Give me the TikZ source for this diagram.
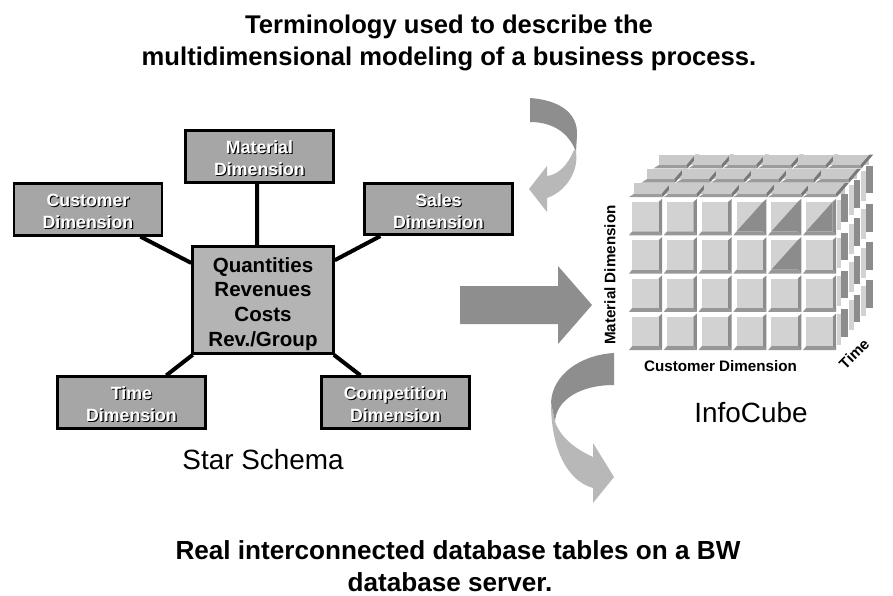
\documentclass[tikz,border=0pt]{standalone}
\usepackage{fontspec}
\setmainfont{Liberation Sans}
\usetikzlibrary{calc}
\definecolor{boxdim}{HTML}{A6A6A6}
\definecolor{boxmid}{HTML}{B4B4B4}
\definecolor{cellface}{HTML}{D2D2D2}
\definecolor{celldark}{HTML}{8C8C8C}
\definecolor{topface}{HTML}{CACACA}
\definecolor{topbevel}{HTML}{9C9C9C}
\definecolor{topdark}{HTML}{787878}
\definecolor{arrowdark}{HTML}{8E8E8E}
\definecolor{arrowlight}{HTML}{B8B8B8}
\newcommand{\shtxt}[1]{\leavevmode\rlap{\kern.8pt\raisebox{-.8pt}{\color{black}#1}}{\color{white}#1}}
\newcommand{\dimgap}{\rule{0pt}{13.5pt}}
\newcommand{\hubgap}{\rule{0pt}{17pt}}
\newcommand{\frontcell}{%
  \fill[celldark] (.85,.9) -- (.95,1) -- (.95,.05) -- (.85,.13) -- cycle;
  \fill[celldark!90!white] (0,1) -- (.95,1) -- (.85,.9) -- (.09,.9) -- cycle;
  \fill[cellface] (.09,.13) rectangle (.85,.9);
}
\newcommand{\topcell}{%
  \fill[topbevel] (0,0) -- (.97,0) -- (.86,.24) -- (.07,.24) -- cycle;
  \fill[topface] (.07,.24) rectangle (.86,.96);
  \fill[topdark] (.86,.24) -- (.97,0) -- (.97,.96) -- (.86,.96) -- cycle;
}
\newcommand{\sidecell}{%
  \fill[cellface] (0,.07) rectangle (.38,1);
  \fill[celldark] (.38,.07) rectangle (.93,1);
}
\tikzset{
  dim/.style={draw=black,line width=2.2pt,fill=boxdim,minimum width=111pt,minimum height=38.5pt,inner sep=0pt,font=\bfseries\fontsize{13.3}{16.5}\selectfont,align=center},
  hub/.style={draw=black,line width=2.2pt,fill=boxmid,minimum width=105.5pt,minimum height=80pt,inner sep=0pt,font=\bfseries\fontsize{15.4}{18.4}\selectfont,align=center},
  link/.style={draw=black,line width=3pt},
  title/.style={font=\bfseries\fontsize{19.2}{24}\selectfont,align=center,inner sep=0pt},
  title low/.style={title,font=\bfseries\fontsize{19.6}{23.5}\selectfont},
  capt/.style={font=\fontsize{20.9}{24}\selectfont,inner sep=0pt},
  axis/.style={font=\bfseries\fontsize{11.4}{12}\selectfont,inner sep=0pt},
  darrow/.style={fill=arrowdark},
  larrow/.style={fill=arrowlight},
}
\begin{document}
\begin{tikzpicture}[x=0.75pt,y=-0.75pt]
\useasboundingbox (0,0) rectangle (893,596);
\fill[white] (0,0) rectangle (893,596);
% titles
\node[title] (t1) at (449,43) {Terminology used to describe the\\multidimensional modeling of a business process.};
\node[title low] (t2) at (458,566) {Real interconnected database tables on a BW\\database server.\hspace*{12pt}};
% star schema
\node[hub] (hub) at (263,300) {\hubgap Quantities\\Revenues\\Costs\\Rev./Group};
\node[dim] (mat) at (259.5,156.5) {\dimgap\shtxt{Material}\\\shtxt{Dimension}};
\node[dim] (cust) at (88,209.5) {\dimgap\shtxt{Customer}\\\shtxt{Dimension}};
\node[dim] (sales) at (438.5,209) {\dimgap\shtxt{Sales}\\\shtxt{Dimension}};
\node[dim] (time) at (131.5,402.5) {\dimgap\shtxt{Time}\\\shtxt{Dimension}};
\node[dim] (comp) at (395.5,402.5) {\dimgap\shtxt{Competition}\\\shtxt{Dimension}};
\draw[link] (hub.96.3) -- (mat.-95.3);
\draw[link] (hub) -- (cust);
\draw[link] (hub.29.4) -- (sales.205);
\draw[link] (hub) -- (time);
\draw[link] (hub) -- (comp);
\node[capt] (star) at (263,460) {Star Schema};
\node[capt] (info) at (751,413) {InfoCube};
% block arrow
\fill[darrow] (460,286) -- (558,286) -- (558,266) -- (592,305) -- (558,344) -- (558,324) -- (460,324) -- cycle;
% upper curved arrow
\fill[darrow] (530,98) .. controls (558,100) and (578,112) .. (577,135) -- (576,152) .. controls (570,135) and (555,122) .. (530,122) -- cycle;
\fill[larrow] (576,152) .. controls (579,172) and (565,192) .. (547,198) -- (547,212) -- (529,189) -- (547,166) -- (547,176) .. controls (558,175) and (568,165) .. (574,150) -- cycle;
% lower curved arrow
\fill[darrow] (614,353) .. controls (580,355) and (552,375) .. (551,403) -- (555,422) .. controls (556,400) and (580,385) .. (614,385) -- cycle;
\fill[larrow] (555,422) .. controls (562,440) and (578,450) .. (593,457) -- (593,443) -- (614,477) -- (593,503) -- (593,488) .. controls (565,480) and (551,445) .. (551,403) -- cycle;
% cube: top
\foreach \c in {0,...,5}\foreach \r in {0,1,2}{
  \begin{scope}[shift={(629,197)},x={(26.1pt,0pt)},y={(9.25pt,10.75pt)}]
    \begin{scope}[shift={(\c,\r)}]
      \topcell
    \end{scope}
  \end{scope}
}
% cube: front
\foreach \c in {0,...,5}\foreach \r in {0,...,3}{
  \begin{scope}[shift={(629,197)},x={(26.1pt,0pt)},y={(0pt,-28.7pt)}]
    \begin{scope}[shift={(\c,\r)}]
      \frontcell
    \end{scope}
  \end{scope}
}
\foreach \c/\r in {3/0,4/0,5/0,4/1}{
  \begin{scope}[shift={(629,197)},x={(26.1pt,0pt)},y={(0pt,-28.7pt)}]
    \begin{scope}[shift={(\c,\r)}]
      \fill[celldark] (.09,.9) -- (.85,.13) -- (.85,.9) -- cycle;
    \end{scope}
  \end{scope}
}
% cube: side
\foreach \c in {0,1,2}\foreach \r in {0,...,3}{
  \begin{scope}[shift={(836.5,197)},x={(9.25pt,10.75pt)},y={(0pt,-28.7pt)}]
    \begin{scope}[shift={(\c,\r)}]
      \sidecell
    \end{scope}
  \end{scope}
}
\node[axis,rotate=90] (lm) at (610,275) {Material Dimension};
\node[axis] (lc) at (720.5,366) {Customer Dimension};
\node[axis,rotate=45] (lt) at (854,354) {Time};
\end{tikzpicture}
\end{document}
